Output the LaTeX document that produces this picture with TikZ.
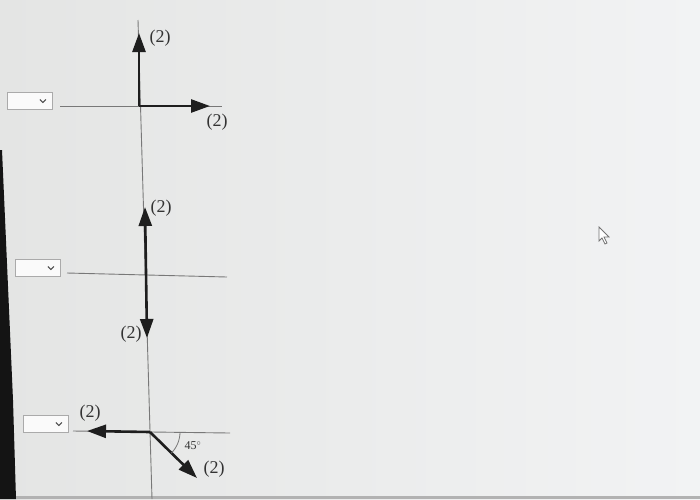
\documentclass[tikz,border=0pt]{standalone}
\usepackage{fontspec}
\setmainfont{Liberation Serif}
\usetikzlibrary{arrows.meta}
\definecolor{bgL}{RGB}{228,229,228}
\definecolor{bgR}{RGB}{242,243,244}
\definecolor{axisgray}{RGB}{120,120,120}
\definecolor{vecblack}{RGB}{30,30,30}
\definecolor{boxgray}{RGB}{170,170,170}
\tikzset{
  axisline/.style={draw=axisgray, line width=0.9pt},
  vector/.style={draw=vecblack, line width=2.6pt, -{Triangle[length=19pt,width=13pt]}},
  lbl/.style={font=\fontsize{18}{18}\selectfont, text=black!80, inner sep=1pt},
  ddbox/.style={draw=boxgray, fill=white!96!gray, line width=0.8pt, minimum width=45pt, minimum height=17pt, inner sep=0pt},
  chev/.style={draw=black!70, line width=1pt},
}
\begin{document}
\begin{tikzpicture}[x=1pt, y=-1pt]
\useasboundingbox (0,0) rectangle (700,499);
% background
\shade[left color=bgL, right color=bgR] (0,0) rectangle (700,499);
\fill[black!92] (0,150) -- (2,150) -- (13,400) -- (16,499) -- (0,499) -- cycle;
\fill[black!30] (16,496) rectangle (700,499);

% long vertical reference line
\coordinate (vtop) at (138,20);
\coordinate (vbot) at (152,499);
\draw[axisline] (vtop) -- (vbot);

% ---------- diagram 1 ----------
\node[ddbox] (dd1) at (30,101) {};
\draw[chev] ([xshift=-13pt,yshift=1.5pt]dd1.east) -- ([xshift=-10pt,yshift=-1.5pt]dd1.east) -- ([xshift=-7pt,yshift=1.5pt]dd1.east);
\coordinate (h1l) at (60,106);
\coordinate (h1r) at (222,106);
\draw[axisline] (h1l) -- (h1r);
\coordinate (o1) at (139,106);
\coordinate (t1u) at (139,33);
\coordinate (t1r) at (210,106);
\draw[vector] (o1) -- (t1u);
\draw[vector] (o1) -- (t1r);
\node[lbl] (l1u) at (160,38) {(2)};
\node[lbl] (l1r) at (217,122) {(2)};

% ---------- diagram 2 ----------
\node[ddbox] (dd2) at (38,268) {};
\draw[chev] ([xshift=-13pt,yshift=1.5pt]dd2.east) -- ([xshift=-10pt,yshift=-1.5pt]dd2.east) -- ([xshift=-7pt,yshift=1.5pt]dd2.east);
\coordinate (h2l) at (67,273);
\coordinate (h2r) at (227,277);
\draw[axisline] (h2l) -- (h2r);
\coordinate (o2) at (146,272);
\coordinate (t2u) at (145,207);
\coordinate (t2d) at (147,338);
\draw[vector] (o2) -- (t2u);
\draw[vector] (o2) -- (t2d);
\node[lbl] (l2u) at (161,208) {(2)};
\node[lbl] (l2d) at (131,334) {(2)};

% ---------- diagram 3 ----------
\node[ddbox] (dd3) at (46,424) {};
\draw[chev] ([xshift=-13pt,yshift=1.5pt]dd3.east) -- ([xshift=-10pt,yshift=-1.5pt]dd3.east) -- ([xshift=-7pt,yshift=1.5pt]dd3.east);
\coordinate (h3l) at (73,431);
\coordinate (h3r) at (230,433);
\draw[axisline] (h3l) -- (h3r);
\coordinate (o3) at (150,432);
\coordinate (t3l) at (87,431);
\coordinate (t3d) at (197,478);
\draw[vector] (o3) -- (t3l);
\draw[vector] (o3) -- (t3d);
\draw[axisgray, line width=0.8pt] (o3) ++(0:30) arc[start angle=0, end angle=45, radius=30];
\node[lbl, font=\fontsize{12}{12}\selectfont] (l3a) at (193,446) {45$^{\circ}$};
\node[lbl] (l3l) at (90,413) {(2)};
\node[lbl] (l3d) at (214,469) {(2)};

% mouse pointer
\draw[black!55, line width=0.8pt, fill=white] (599,227) -- (599,241) -- (602,238) -- (605,244) -- (607,243) -- (604,237) -- (609,237) -- cycle;
\end{tikzpicture}
\end{document}
